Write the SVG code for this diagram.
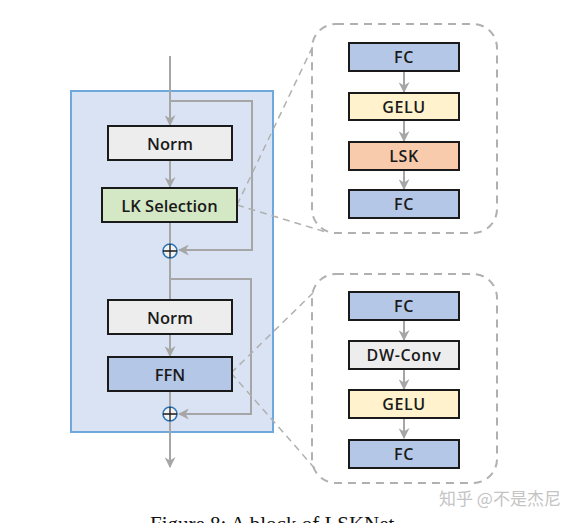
<svg xmlns="http://www.w3.org/2000/svg" width="580" height="523" viewBox="0 0 580 523">
<style>
.box{stroke:#1a1a1a;stroke-width:2}
.lbl{font-family:"Open Sans","Noto Sans",sans-serif;font-weight:600;font-size:16.5px;fill:#1a1a1a;text-anchor:middle;dominant-baseline:central}
.lbl2{font-family:"Open Sans","Noto Sans",sans-serif;font-weight:600;font-size:16px;letter-spacing:0.6px;fill:#1a1a1a;text-anchor:middle;dominant-baseline:central}
.ln{fill:none;stroke:#a6a6a6;stroke-width:2}
.dash{fill:none;stroke:#b0b0b0;stroke-width:1.5;stroke-dasharray:7 5}
.panel{fill:none;stroke:#b0b0b0;stroke-width:2;stroke-dasharray:8 6}
</style>
<defs>
<marker id="ah" viewBox="0 0 10 10" refX="9" refY="5" markerWidth="5.5" markerHeight="5.5" orient="auto" markerUnits="strokeWidth">
<path d="M0,0 L10,5 L0,10 L3,5 Z" fill="#a6a6a6"/>
</marker>
</defs>
<rect width="580" height="523" fill="#ffffff"/>
<g id="block">
<rect x="71" y="91" width="202" height="341" fill="#dae3f3" stroke="#6fa8dc" stroke-width="2"/>
</g>
<g id="connectors">
<line class="ln" x1="170" y1="56" x2="170" y2="125" marker-end="url(#ah)"/>
<polyline class="ln" points="170,101 252,101 252,250 179,250" marker-end="url(#ah)"/>
<line class="ln" x1="170" y1="160" x2="170" y2="187" marker-end="url(#ah)"/>
<line class="ln" x1="170" y1="222" x2="170" y2="244"/>
<line class="ln" x1="170" y1="258" x2="170" y2="300"/>
<polyline class="ln" points="170,279 251,279 251,414 179,414" marker-end="url(#ah)"/>
<line class="ln" x1="170" y1="334" x2="170" y2="356" marker-end="url(#ah)"/>
<line class="ln" x1="170" y1="391" x2="170" y2="407"/>
<line class="ln" x1="170" y1="421" x2="170" y2="467" marker-end="url(#ah)"/>
<line class="ln" x1="404" y1="71" x2="404" y2="92" marker-end="url(#ah)"/>
<line class="ln" x1="404" y1="120" x2="404" y2="141" marker-end="url(#ah)"/>
<line class="ln" x1="404" y1="170" x2="404" y2="189" marker-end="url(#ah)"/>
<line class="ln" x1="404" y1="320" x2="404" y2="340" marker-end="url(#ah)"/>
<line class="ln" x1="404" y1="369" x2="404" y2="389" marker-end="url(#ah)"/>
<line class="ln" x1="404" y1="418" x2="404" y2="438" marker-end="url(#ah)"/>
<line class="dash" x1="237" y1="205" x2="313" y2="46"/>
<line class="dash" x1="237" y1="205" x2="326" y2="232"/>
<line class="dash" x1="231" y1="373" x2="313" y2="293"/>
<line class="dash" x1="231" y1="373" x2="318" y2="472"/>
</g>
<g id="norm1"><rect class="box" x="108" y="126" width="124" height="34" fill="#ededed"/><text class="lbl" x="170" y="143">Norm</text></g>
<g id="lksel"><rect class="box" x="102" y="188" width="135" height="34" fill="#d5e8c5"/><text class="lbl" x="169.5" y="205">LK Selection</text></g>
<g id="add1"><circle cx="170" cy="251" r="7" fill="#f2f2f2" stroke="#2e75b6" stroke-width="1.6"/><path d="M163,251 H177 M170,244 V258" stroke="#1a1a1a" stroke-width="1.3"/></g>
<g id="norm2"><rect class="box" x="108" y="300" width="124" height="34" fill="#ededed"/><text class="lbl" x="170" y="317">Norm</text></g>
<g id="ffn"><rect class="box" x="108" y="357" width="124" height="34" fill="#b4c7e7"/><text class="lbl" x="170" y="374">FFN</text></g>
<g id="add2"><circle cx="170" cy="414" r="7" fill="#f2f2f2" stroke="#2e75b6" stroke-width="1.6"/><path d="M163,414 H177 M170,407 V421" stroke="#1a1a1a" stroke-width="1.3"/></g>
<g id="panel1">
<rect class="panel" x="312" y="24" width="185" height="209" rx="24" ry="24"/>
</g>
<g id="fc1"><rect class="box" x="349" y="43" width="110" height="28" fill="#b4c7e7"/><text class="lbl2" x="404" y="57">FC</text></g>
<g id="gelu1"><rect class="box" x="349" y="93" width="110" height="27" fill="#fff2cc"/><text class="lbl2" x="404" y="106.5">GELU</text></g>
<g id="lsk"><rect class="box" x="349" y="142" width="110" height="28" fill="#f8cbad"/><text class="lbl2" x="404" y="156">LSK</text></g>
<g id="fc2"><rect class="box" x="349" y="190" width="110" height="28" fill="#b4c7e7"/><text class="lbl2" x="404" y="204">FC</text></g>
<g id="panel2">
<rect class="panel" x="312" y="274" width="185" height="209" rx="24" ry="24"/>
</g>
<g id="fc3"><rect class="box" x="349" y="292" width="110" height="28" fill="#b4c7e7"/><text class="lbl2" x="404" y="306">FC</text></g>
<g id="dwconv"><rect class="box" x="349" y="341" width="110" height="28" fill="#ededed"/><text class="lbl2" x="404" y="355">DW-Conv</text></g>
<g id="gelu2"><rect class="box" x="349" y="390" width="110" height="28" fill="#fff2cc"/><text class="lbl2" x="404" y="404">GELU</text></g>
<g id="fc4"><rect class="box" x="349" y="440" width="110" height="28" fill="#b4c7e7"/><text class="lbl2" x="404" y="454">FC</text></g>
<text x="150" y="531" font-family="'Liberation Serif',serif" font-size="21" fill="#111">Figure 8: A block of LSKNet</text>
<text x="439" y="505" font-family="'Noto Sans CJK SC',sans-serif" font-size="17" fill="#c4c4c4">知乎 @不是杰尼</text>
</svg>
